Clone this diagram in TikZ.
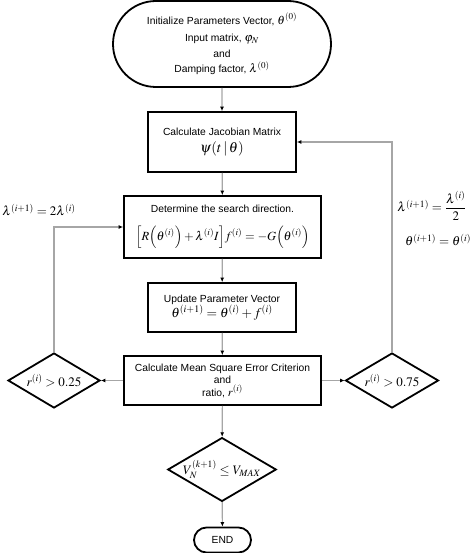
\documentclass[tikz,border=0pt]{standalone}
\usepackage{mathptmx}
\usepackage[no-math]{fontspec}
\setmainfont{Liberation Sans}
\usetikzlibrary{shapes.misc,shapes.geometric,arrows.meta}
\tikzset{
  box/.style={draw=black,line width=1.8pt,rectangle,align=center,inner sep=2pt,font=\fontsize{10.3}{12.5}\selectfont},
  term/.style={draw=black,line width=1.8pt,rounded rectangle,align=center,inner sep=2pt,font=\fontsize{10.3}{12.5}\selectfont},
  dec/.style={draw=black,line width=1.8pt,diamond,shape aspect=1.7,inner sep=0pt,font=\fontsize{13}{15}\selectfont},
  flow/.style={draw=black!35,line width=1.2pt,-{Latex[length=4.5pt,width=4pt,color=black]}},
  lbl/.style={font=\fontsize{13}{15}\selectfont,inner sep=0pt}
}
\begin{document}
\begin{tikzpicture}[x=1pt,y=-1pt]
\useasboundingbox (0,0) rectangle (474,553);
\node[term,minimum width=222pt,minimum height=86pt] (start) at (222,44)
  {Initialize Parameters Vector, {\large$\theta^{(0)}$}\\[5pt]
   Input matrix, {\large$\varphi_N$}\\[3pt]
   and\\[3pt]
   Damping factor, {\large$\lambda^{(0)}$}};
\node[box,minimum width=148pt,minimum height=60pt] (jac) at (222,142)
  {Calculate Jacobian Matrix\\[5pt] {\fontsize{14.5}{16}\selectfont$\psi(t\,|\,\theta)$}};
\node[box,minimum width=197pt,minimum height=62pt] (det) at (222.5,227)
  {Determine the search direction.\\[12pt]
   {\fontsize{12.5}{15}\selectfont$\Bigl[R\Bigl(\theta^{(i)}\Bigr)+\lambda^{(i)}I\Bigr]f^{(i)}=-G\Bigl(\theta^{(i)}\Bigr)$}};
\node[box,minimum width=148pt,minimum height=49pt] (upd) at (222,307.5)
  {Update Parameter Vector\\[0pt] {\fontsize{13.5}{15}\selectfont$\theta^{(i+1)}=\theta^{(i)}+f^{(i)}$}};
\node[box,minimum width=197pt,minimum height=49pt] (mse) at (222.5,380.5)
  {Calculate Mean Square Error Criterion\\ and\\ ratio, {\large$r^{(i)}$}};
\node[dec,minimum width=92pt,minimum height=55pt] (dl) at (54,380.5) {$r^{(i)}>0.25$};
\node[dec,minimum width=93pt,minimum height=55pt] (dr) at (392,380.5) {$r^{(i)}>0.75$};
\node[dec,minimum width=91pt,minimum height=55pt] (dv) at (222,469.5) {$V_N^{(k+1)}\le V_{MAX}$};
\node[term,minimum width=61pt,minimum height=25pt] (end) at (222.5,540) {END};
\node[lbl] (ll) at (39,210) {$\lambda^{(i+1)}=2\lambda^{(i)}$};
\node[lbl] (lr1) at (432,206) {$\lambda^{(i+1)}=\displaystyle\frac{\lambda^{(i)}}{2}$};
\node[lbl] (lr2) at (438,240) {$\theta^{(i+1)}=\theta^{(i)}$};
\draw[flow] (start) -- (jac);
\draw[flow] (jac) -- (det);
\draw[flow] (det) -- (upd);
\draw[flow] (upd) -- (mse);
\draw[flow] (mse) -- (dv);
\draw[flow] (dv) -- (end);
\draw[flow] (mse) -- (dl);
\draw[flow] (mse) -- (dr);
\draw[flow] (dl.north) |- (det.west);
\draw[flow] (dr.north) |- (jac.east);
\end{tikzpicture}
\end{document}
